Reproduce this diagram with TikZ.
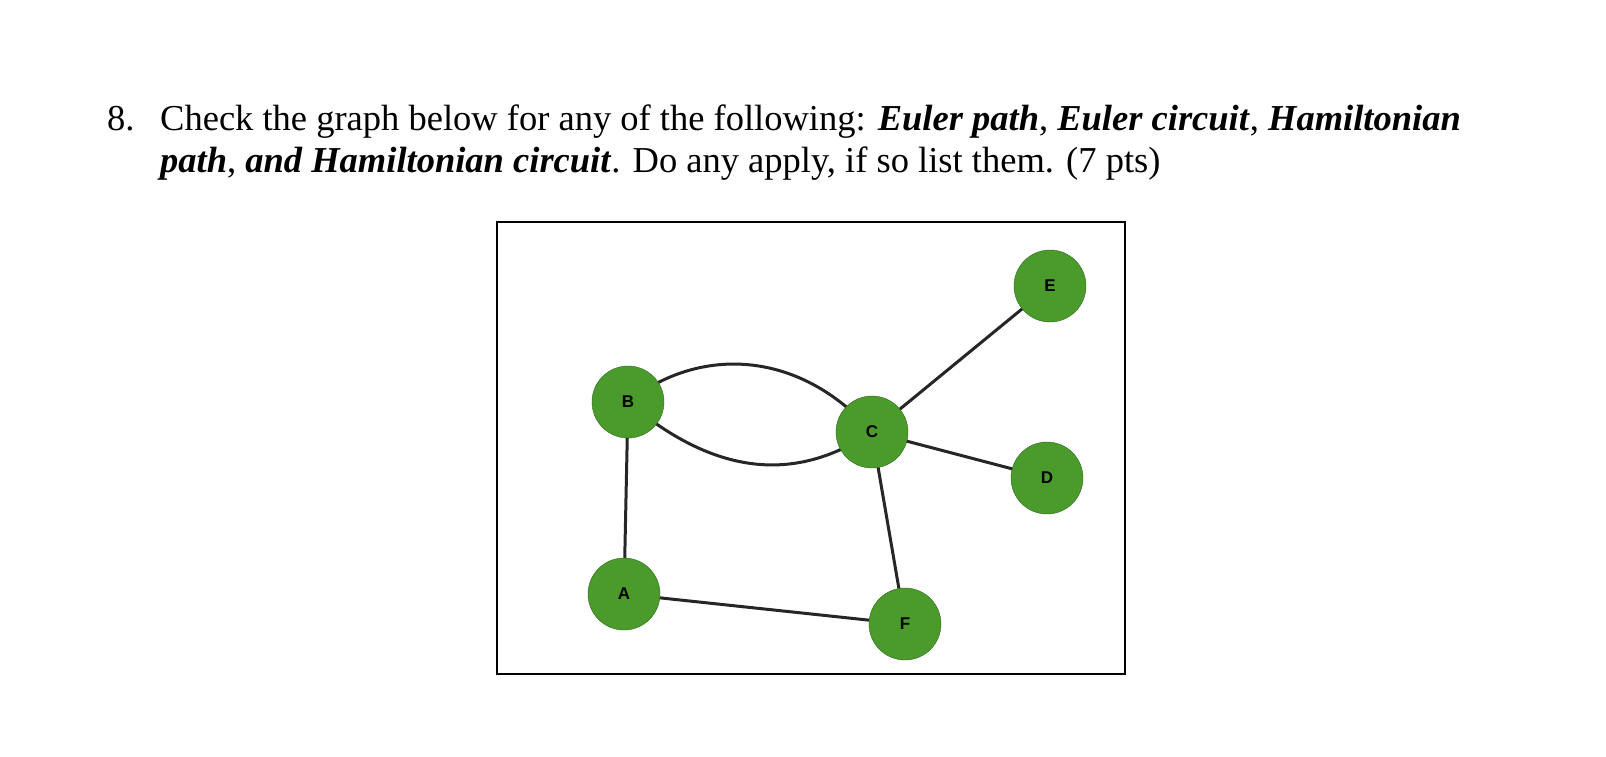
\documentclass[tikz,border=0pt]{standalone}
\usepackage{fontspec}
\setmainfont{Liberation Serif}
\setsansfont{Liberation Sans}
\definecolor{vgreen}{HTML}{4A9A2C}
\definecolor{vedge}{HTML}{2F6A1C}
\tikzset{
  vertex/.style={circle, fill=vgreen, draw=vedge, thin, minimum size=72pt, inner sep=0pt,
    font=\sffamily\bfseries\fontsize{17}{17}\selectfont},
  link/.style={line width=3pt, black!85},
  qtext/.style={anchor=base west, inner sep=0pt, font=\fontsize{36.5}{36.5}\selectfont}
}
\begin{document}
\begin{tikzpicture}[x=1pt, y=-1pt]
  \useasboundingbox[fill=white] (0,0) rectangle (1606,756);
  % question text
  \node (num) [qtext] at (107,130) {8.};
  \node (line1) [qtext] at (160,130) {Check the graph below for any of the following: \textbf{\textit{Euler path}}, \textbf{\textit{Euler circuit}}, \textbf{\textit{Hamiltonian}}};
  \node (line2) [qtext] at (160,172) {\textbf{\textit{path}}, \textbf{\textit{and Hamiltonian circuit}}. Do any apply, if so list them. (7 pts)};
  % frame
  \draw [line width=1.3pt] (497,222) rectangle (1125,674);
  % edges
  \draw [link] (628,402) .. controls (700,345) and (800,350) .. (872,432);
  \draw [link] (628,402) .. controls (720,480) and (800,480) .. (872,432);
  \draw [link] (872,432) -- (1050,286);
  \draw [link] (872,432) -- (1047,478);
  \draw [link] (872,432) -- (905,624);
  \draw [link] (628,402) -- (624,594);
  \draw [link] (624,594) -- (905,624);
  % vertices
  \node (B) [vertex] at (628,402) {B};
  \node (C) [vertex] at (872,432) {C};
  \node (E) [vertex] at (1050,286) {E};
  \node (D) [vertex] at (1047,478) {D};
  \node (A) [vertex] at (624,594) {A};
  \node (F) [vertex] at (905,624) {F};
\end{tikzpicture}
\end{document}
